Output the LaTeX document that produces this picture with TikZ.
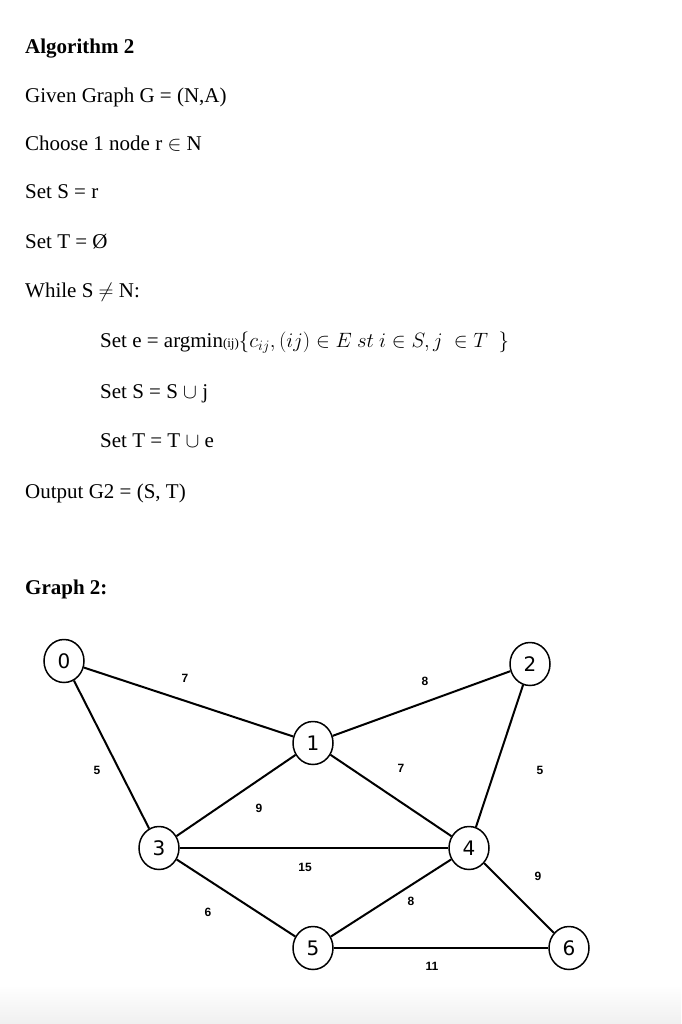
\documentclass[tikz,border=0pt]{standalone}
\usepackage{fontspec}
\usepackage{amssymb}
\usetikzlibrary{shapes.geometric}
\setmainfont{Liberation Serif}
\newfontfamily\gsans{DejaVu Sans}
\newfontfamily\lsans{Liberation Sans}
\begin{document}
\begin{tikzpicture}[x=1pt,y=-1pt,
  txt/.style={anchor=base west,inner sep=0pt,font=\fontsize{21}{25}\selectfont},
  vtx/.style={draw,line width=1.5pt,ellipse,minimum width=40pt,minimum height=43pt,inner sep=0pt,font=\gsans\fontsize{20}{23}\selectfont},
  wt/.style={font=\lsans\bfseries\fontsize{12}{14}\selectfont,inner sep=0pt},
  edge/.style={line width=2pt}]
\useasboundingbox (0,0) rectangle (681,1024);
\shade[top color=white,bottom color=gray!12] (0,985) rectangle (681,1024);
\node[txt] (t0) at (25,54) {\textbf{Algorithm 2}};
\node[txt] (t1) at (25,103) {Given Graph G = (N,A)};
\node[txt] (t2) at (25,151) {Choose 1 node r $\in$ N};
\node[txt] (t3) at (25,199) {Set S = r};
\node[txt] (t4) at (25,248) {Set T = Ø};
\node[txt] (t5) at (25,297) {While S $\neq$ N:};
\node[txt] (t6) at (100,347) {Set e = argmin{\fontsize{13}{15}\selectfont (ij)}$\{c_{ij},(ij)\in E\ st\ i\in S, j\ \in T\ \ \}$};
\node[txt] (t7) at (100,398) {Set S = S $\cup$ j};
\node[txt] (t8) at (100,447) {Set T = T $\cup$ e};
\node[txt] (t9) at (25,498) {Output G2 = (S, T)};
\node[txt] (t10) at (25,594) {\textbf{Graph 2:}};
\node[vtx] (n0) at (64,661) {0};
\node[vtx] (n2) at (530,664) {2};
\node[vtx] (n1) at (313,743) {1};
\node[vtx] (n3) at (159,848) {3};
\node[vtx] (n4) at (469,848) {4};
\node[vtx] (n5) at (313,948) {5};
\node[vtx] (n6) at (569,948) {6};
\draw[edge] (n0) -- (n1); \draw[edge] (n0) -- (n3);
\draw[edge] (n1) -- (n2); \draw[edge] (n1) -- (n4);
\draw[edge] (n1) -- (n3); \draw[edge] (n2) -- (n4);
\draw[edge] (n3) -- (n4); \draw[edge] (n3) -- (n5);
\draw[edge] (n4) -- (n5); \draw[edge] (n4) -- (n6);
\draw[edge] (n5) -- (n6);
\node[wt] (w1) at (185,678) {7};
\node[wt] (w2) at (425,681) {8};
\node[wt] (w3) at (97,770) {5};
\node[wt] (w4) at (401,768) {7};
\node[wt] (w5) at (540,770) {5};
\node[wt] (w6) at (259,808) {9};
\node[wt] (w7) at (305,867) {15};
\node[wt] (w8) at (538,876) {9};
\node[wt] (w9) at (411,901) {8};
\node[wt] (w10) at (208,912) {6};
\node[wt] (w11) at (432,966) {11};
\end{tikzpicture}
\end{document}
